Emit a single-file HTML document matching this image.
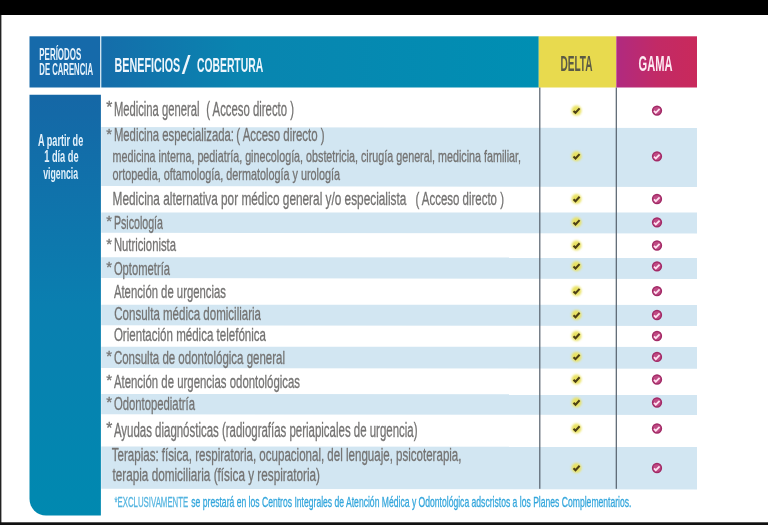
<!DOCTYPE html>
<html lang="es"><head><meta charset="utf-8"><title>Beneficios / Cobertura</title>
<style>
html,body{margin:0;padding:0;background:#fff;}
body{width:768px;height:525px;overflow:hidden;position:relative;font-family:"Liberation Sans",sans-serif;}
svg{display:block;position:absolute;left:-12px;top:-12px;filter:blur(0.55px)}
text{font-family:"Liberation Sans",sans-serif;}
</style></head><body>
<svg width="792" height="549" viewBox="-12 -12 792 549">
<defs>
<linearGradient id="gh" x1="0" y1="0" x2="1" y2="0"><stop offset="0" stop-color="#156daa"/><stop offset="0.32" stop-color="#0985b0"/><stop offset="1" stop-color="#008fb3"/></linearGradient>
<linearGradient id="gs" x1="0" y1="0" x2="0" y2="1"><stop offset="0" stop-color="#1567a6"/><stop offset="0.5" stop-color="#0a7fb0"/><stop offset="1" stop-color="#0089b0"/></linearGradient>
<linearGradient id="gm" x1="0" y1="0" x2="1" y2="0"><stop offset="0" stop-color="#b02a80"/><stop offset="0.5" stop-color="#c22a66"/><stop offset="1" stop-color="#c9295b"/></linearGradient>
<filter id="bl" x="-50%" y="-50%" width="200%" height="200%"><feGaussianBlur stdDeviation="0.8"/></filter>
<g id="cd"><circle r="5" fill="#e9e262" filter="url(#bl)"/><path d="M-3,0.3 L-1,2.2 L3.1,-2.2" fill="none" stroke="#4d4015" stroke-width="2.1"/></g>
<g id="cg"><circle r="4.4" fill="#c04a84" stroke="#a22a66" stroke-width="1.5"/><path d="M-3,0.3 L-1.2,2.2 L2.6,-1.7" fill="none" stroke="#ffe0f0" stroke-width="1.8"/></g>
</defs>
<rect x="-12" y="-12" width="792" height="549" fill="#ffffff"/>
<rect x="-12" y="-12" width="792" height="27" fill="#000"/>
<rect x="-12" y="15" width="13.4" height="522" fill="#222"/>
<rect x="-12" y="522.3" width="792" height="15" fill="#111"/>

<rect x="29.5" y="36.3" width="70.5" height="51.2" fill="#166aaa"/>
<rect x="100" y="36.3" width="1.3" height="51.2" fill="#cfe4f0"/>
<rect x="101.3" y="36.3" width="437.5" height="51.2" fill="url(#gh)"/>
<rect x="538.7" y="36.3" width="77.6" height="51.2" fill="#e8da4e"/>
<rect x="616.3" y="36.3" width="80.7" height="51.2" fill="url(#gm)"/>
<path d="M29.5,94.7 H100.9 V515.5 H46 A16.5,16.5 0 0 1 29.5,499 Z" fill="url(#gs)"/>
<polygon points="101.2,127.1 697,127.9 697,186.9 101.2,186.1" fill="#d2e6f2"/>
<polygon points="101.2,212.4 697,212.6 697,233.6 101.2,232.8" fill="#d2e6f2"/>
<polygon points="101.2,257.3 697,257.5 697,278.9 101.2,278.1" fill="#d2e6f2"/>
<polygon points="101.2,304.7 697,304.9 697,326.1 101.2,325.3" fill="#d2e6f2"/>
<polygon points="101.2,346.7 697,346.9 697,368.8 101.2,368" fill="#d2e6f2"/>
<polygon points="101.2,394 697,394.2 697,415.1 101.2,414.3" fill="#d2e6f2"/>
<polygon points="101.2,446.5 697,446.7 697,489.6 101.2,488.8" fill="#d2e6f2"/>
<rect x="539.2" y="87.5" width="1.2" height="401.3" fill="#55606c"/>
<rect x="615.7" y="87.5" width="1.2" height="401.3" fill="#55606c"/>
<text x="39.3" y="59.7" font-size="16.3" font-weight="bold" fill="#e6f2fb" textLength="42.0" lengthAdjust="spacingAndGlyphs" xml:space="preserve">PERÍODOS</text>
<text x="39.3" y="74.8" font-size="16.2" font-weight="bold" fill="#e6f2fb" textLength="53.7" lengthAdjust="spacingAndGlyphs" xml:space="preserve">DE CARENCIA</text>
<text x="114.6" y="71.7" font-size="20.5" font-weight="bold" fill="#eef6fc" textLength="65.7" lengthAdjust="spacingAndGlyphs" xml:space="preserve">BENEFICIOS</text>
<text x="181.8" y="74.4" font-size="26.5" font-weight="normal" fill="#eef6fc" textLength="8.8" lengthAdjust="spacingAndGlyphs" xml:space="preserve">/</text>
<text x="196.9" y="71.7" font-size="20.5" font-weight="bold" fill="#eef6fc" textLength="66.3" lengthAdjust="spacingAndGlyphs" xml:space="preserve">COBERTURA</text>
<text x="560.4" y="70.8" font-size="22" font-weight="bold" fill="#5b5a45" textLength="32.1" lengthAdjust="spacingAndGlyphs" xml:space="preserve">DELTA</text>
<text x="638.5" y="70.8" font-size="21.5" font-weight="bold" fill="#fdeaf2" textLength="34.0" lengthAdjust="spacingAndGlyphs" xml:space="preserve">GAMA</text>
<text x="38" y="146" font-size="17" font-weight="bold" fill="#e3f1fb" textLength="45.2" lengthAdjust="spacingAndGlyphs" xml:space="preserve">A partir de</text>
<text x="44.2" y="161.9" font-size="17" font-weight="bold" fill="#e3f1fb" textLength="34.4" lengthAdjust="spacingAndGlyphs" xml:space="preserve">1 día de</text>
<text x="43.2" y="179.4" font-size="17" font-weight="bold" fill="#e3f1fb" textLength="34.9" lengthAdjust="spacingAndGlyphs" xml:space="preserve">vigencia</text>
<text x="106.2" y="113.1" font-size="15.6" fill="#747372" stroke="#747372" stroke-width="0.3">*</text>
<text x="113.9" y="115.7" font-size="19.5" font-weight="normal" fill="#747372" stroke="#747372" stroke-width="0.33" textLength="85.5" lengthAdjust="spacingAndGlyphs" xml:space="preserve">Medicina general</text>
<text x="206.3" y="115.7" font-size="19.5" font-weight="normal" fill="#747372" stroke="#747372" stroke-width="0.33" textLength="87.7" lengthAdjust="spacingAndGlyphs" xml:space="preserve">( Acceso directo )</text>
<text x="106.2" y="138.6" font-size="14.8" fill="#747372" stroke="#747372" stroke-width="0.3">*</text>
<text x="113.9" y="141.2" font-size="18.5" font-weight="normal" fill="#747372" stroke="#747372" stroke-width="0.33" textLength="120.0" lengthAdjust="spacingAndGlyphs" xml:space="preserve">Medicina especializada:</text>
<text x="236.3" y="141.2" font-size="18.5" font-weight="normal" fill="#747372" stroke="#747372" stroke-width="0.33" textLength="88.3" lengthAdjust="spacingAndGlyphs" xml:space="preserve">( Acceso directo )</text>
<text x="112.6" y="162.1" font-size="16.5" font-weight="normal" fill="#747372" stroke="#747372" stroke-width="0.33" textLength="408.4" lengthAdjust="spacingAndGlyphs" xml:space="preserve">medicina interna, pediatría, ginecología, obstetricia, cirugía general, medicina familiar,</text>
<text x="112.6" y="179.5" font-size="16.5" font-weight="normal" fill="#747372" stroke="#747372" stroke-width="0.33" textLength="227.4" lengthAdjust="spacingAndGlyphs" xml:space="preserve">ortopedia, oftamología, dermatología y urología</text>
<text x="112.6" y="205.1" font-size="18.8" font-weight="normal" fill="#747372" stroke="#747372" stroke-width="0.33" textLength="293.8" lengthAdjust="spacingAndGlyphs" xml:space="preserve">Medicina alternativa por médico general y/o especialista</text>
<text x="415.4" y="205.1" font-size="18.8" font-weight="normal" fill="#747372" stroke="#747372" stroke-width="0.33" textLength="88.6" lengthAdjust="spacingAndGlyphs" xml:space="preserve">( Acceso directo )</text>
<text x="106.2" y="226.1" font-size="14.6" fill="#747372" stroke="#747372" stroke-width="0.3">*</text>
<text x="113.9" y="228.7" font-size="18.3" font-weight="normal" fill="#747372" stroke="#747372" stroke-width="0.33" textLength="49.1" lengthAdjust="spacingAndGlyphs" xml:space="preserve">Psicología</text>
<text x="106.2" y="248.8" font-size="14.8" fill="#747372" stroke="#747372" stroke-width="0.3">*</text>
<text x="113.9" y="251.4" font-size="18.5" font-weight="normal" fill="#747372" stroke="#747372" stroke-width="0.33" textLength="62.1" lengthAdjust="spacingAndGlyphs" xml:space="preserve">Nutricionista</text>
<text x="106.2" y="271.9" font-size="14.8" fill="#747372" stroke="#747372" stroke-width="0.3">*</text>
<text x="113.9" y="274.5" font-size="18.5" font-weight="normal" fill="#747372" stroke="#747372" stroke-width="0.33" textLength="56.1" lengthAdjust="spacingAndGlyphs" xml:space="preserve">Optometría</text>
<text x="113.9" y="298.1" font-size="18.7" font-weight="normal" fill="#747372" stroke="#747372" stroke-width="0.33" textLength="112.1" lengthAdjust="spacingAndGlyphs" xml:space="preserve">Atención de urgencias</text>
<text x="114.3" y="320.2" font-size="18.5" font-weight="normal" fill="#747372" stroke="#747372" stroke-width="0.33" textLength="146.7" lengthAdjust="spacingAndGlyphs" xml:space="preserve">Consulta médica domiciliaria</text>
<text x="113.9" y="340.9" font-size="18.5" font-weight="normal" fill="#747372" stroke="#747372" stroke-width="0.33" textLength="152.1" lengthAdjust="spacingAndGlyphs" xml:space="preserve">Orientación médica telefónica</text>
<text x="106.2" y="360.9" font-size="14.8" fill="#747372" stroke="#747372" stroke-width="0.3">*</text>
<text x="113.9" y="363.5" font-size="18.5" font-weight="normal" fill="#747372" stroke="#747372" stroke-width="0.33" textLength="171.1" lengthAdjust="spacingAndGlyphs" xml:space="preserve">Consulta de odontológica general</text>
<text x="106.2" y="385.4" font-size="15.1" fill="#747372" stroke="#747372" stroke-width="0.3">*</text>
<text x="113.9" y="388.0" font-size="18.9" font-weight="normal" fill="#747372" stroke="#747372" stroke-width="0.33" textLength="186.1" lengthAdjust="spacingAndGlyphs" xml:space="preserve">Atención de urgencias odontológicas</text>
<text x="106.2" y="407.4" font-size="15.1" fill="#747372" stroke="#747372" stroke-width="0.3">*</text>
<text x="113.9" y="410.0" font-size="18.9" font-weight="normal" fill="#747372" stroke="#747372" stroke-width="0.33" textLength="81.1" lengthAdjust="spacingAndGlyphs" xml:space="preserve">Odontopediatría</text>
<text x="106.2" y="433.9" font-size="15.6" fill="#747372" stroke="#747372" stroke-width="0.3">*</text>
<text x="113.9" y="436.5" font-size="19.5" font-weight="normal" fill="#747372" stroke="#747372" stroke-width="0.33" textLength="303.6" lengthAdjust="spacingAndGlyphs" xml:space="preserve">Ayudas diagnósticas (radiografías periapicales de urgencia)</text>
<text x="111.8" y="460.6" font-size="18" font-weight="normal" fill="#747372" stroke="#747372" stroke-width="0.33" textLength="349.7" lengthAdjust="spacingAndGlyphs" xml:space="preserve">Terapias: física, respiratoria, ocupacional, del lenguaje, psicoterapia,</text>
<text x="112.5" y="480.7" font-size="18" font-weight="normal" fill="#747372" stroke="#747372" stroke-width="0.33" textLength="207.5" lengthAdjust="spacingAndGlyphs" xml:space="preserve">terapia domiciliaria (física y respiratoria)</text>
<text x="114.4" y="507.4" font-size="14.5" font-weight="normal" fill="#55b5e0" stroke="#55b5e0" stroke-width="0.3" textLength="73.9" lengthAdjust="spacingAndGlyphs" xml:space="preserve">*EXCLUSIVAMENTE</text>
<text x="191.3" y="507.4" font-size="14.5" font-weight="normal" fill="#33a6dc" stroke="#33a6dc" stroke-width="0.3" textLength="440.2" lengthAdjust="spacingAndGlyphs" xml:space="preserve">se prestará en los Centros Integrales de Atención Médica y Odontológica adscristos a los Planes Complementarios.</text>
<use href="#cd" x="576.5" y="110.6"/><use href="#cg" x="657" y="110.6"/>
<use href="#cd" x="576.5" y="156.3"/><use href="#cg" x="657" y="156.3"/>
<use href="#cd" x="576.5" y="199.0"/><use href="#cg" x="657" y="199.0"/>
<use href="#cd" x="576.5" y="222.3"/><use href="#cg" x="657" y="222.3"/>
<use href="#cd" x="576.5" y="245.5"/><use href="#cg" x="657" y="245.5"/>
<use href="#cd" x="576.5" y="266.3"/><use href="#cg" x="657" y="266.3"/>
<use href="#cd" x="576.5" y="291.1"/><use href="#cg" x="657" y="291.1"/>
<use href="#cd" x="576.5" y="315"/><use href="#cg" x="657" y="315"/>
<use href="#cd" x="576.5" y="336"/><use href="#cg" x="657" y="336"/>
<use href="#cd" x="576.5" y="356.9"/><use href="#cg" x="657" y="356.9"/>
<use href="#cd" x="576.5" y="379.5"/><use href="#cg" x="657" y="379.5"/>
<use href="#cd" x="576.5" y="402.5"/><use href="#cg" x="657" y="402.5"/>
<use href="#cd" x="576.5" y="428.5"/><use href="#cg" x="657" y="428.5"/>
<use href="#cd" x="576.5" y="468"/><use href="#cg" x="657" y="468"/>
</svg></body></html>
